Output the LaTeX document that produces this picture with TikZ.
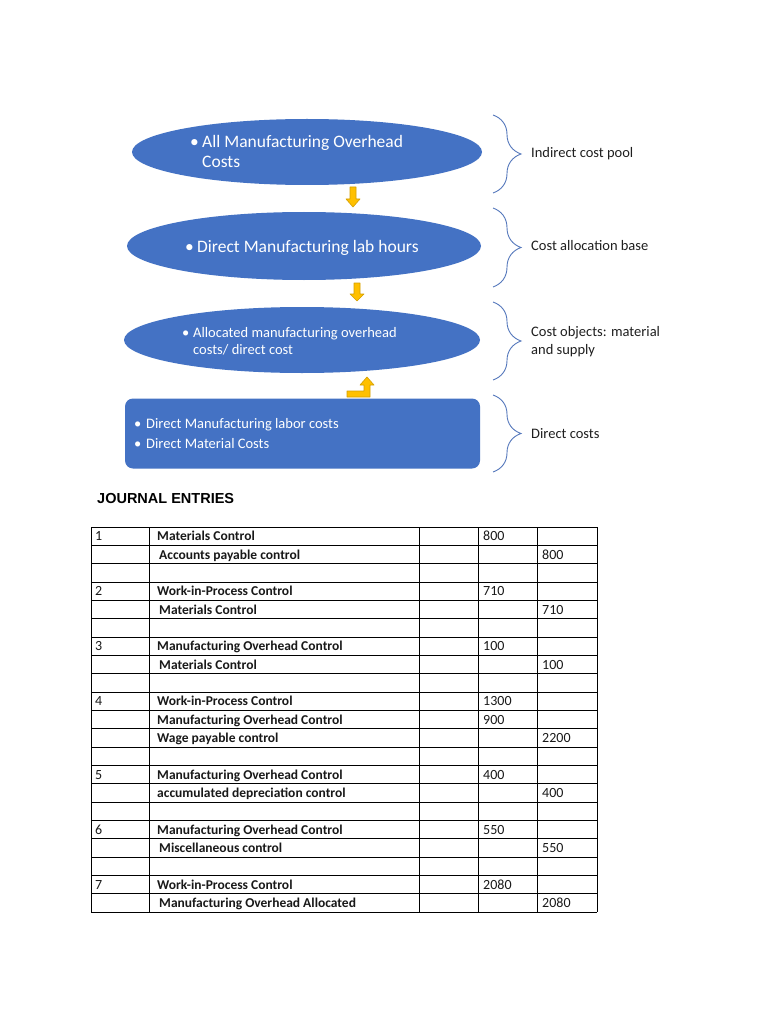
\documentclass[tikz,border=0pt]{standalone}
\usepackage{fontspec}
\setmainfont{Carlito}
\newfontfamily\headfont{Liberation Sans}
\usetikzlibrary{shapes.geometric,decorations.pathreplacing}
\definecolor{oblue}{HTML}{4472C4}
\definecolor{oyel}{HTML}{FFC000}
\definecolor{oyeld}{HTML}{D39E00}
\definecolor{brc}{HTML}{5578BC}
\begin{document}
\begin{tikzpicture}[x=1pt,y=-1pt,
  blob/.style={ellipse, fill=oblue, draw=none, inner sep=0pt},
  bigtxt/.style={text=white, anchor=base west, inner sep=0pt, font=\fontsize{17.5}{20}\selectfont},
  smalltxt/.style={text=white, anchor=base west, inner sep=0pt, font=\fontsize{14.5}{18}\selectfont},
  blockarrow/.style={fill=oyel, draw=oyeld, line width=0.6pt, line join=round},
  curly/.style={draw=brc, line width=0.9pt, decorate, decoration={brace, amplitude=28pt}},
  lbl/.style={anchor=base west, inner sep=0pt, font=\fontsize{14.5}{18}\selectfont, text=black!88},
  tline/.style={draw=black, line width=1pt},
  cell/.style={anchor=base west, inner sep=0pt, font=\fontsize{14}{16}\selectfont, text=black!90},
  tcell/.style={anchor=base west, inner sep=0pt, font=\fontsize{13.5}{16}\selectfont\bfseries, text=black!90}
]
\fill[white] (0,0) rectangle (768,1024);
\useasboundingbox (0,0) rectangle (768,1024);

% ---- flow shapes
\node[blob, minimum width=350pt, minimum height=66pt] (e1) at (307,152) {};
\node[blob, minimum width=354pt, minimum height=68pt] (e2) at (304,246) {};
\node[blob, minimum width=356pt, minimum height=66pt] (e3) at (302,340) {};
\node[rectangle, rounded corners=8pt, fill=oblue, minimum width=355pt, minimum height=70pt, inner sep=0pt] (r4) at (302.5,433.5) {};

% ---- texts in shapes
\node[bigtxt] (e1a) at (190,148) {\makebox[12pt][l]{\textbullet}All Manufacturing Overhead};
\node[bigtxt] (e1b) at (202,168) {Costs};
\node[bigtxt] (e2a) at (185,252) {\makebox[12pt][l]{\textbullet}Direct Manufacturing lab hours};
\node[smalltxt] (e3a) at (182,337) {\makebox[11pt][l]{\textbullet}Allocated manufacturing overhead};
\node[smalltxt] (e3b) at (193,354) {costs/ direct cost};
\node[smalltxt] (r4a) at (134,428) {\makebox[12pt][l]{\textbullet}Direct Manufacturing labor costs};
\node[smalltxt] (r4b) at (134,448) {\makebox[12pt][l]{\textbullet}Direct Material Costs};

% ---- yellow block arrows
\draw[blockarrow] (350,187) -- (356,187) -- (356,199) -- (360,199) -- (353,207) -- (346,199) -- (350,199) -- cycle;
\draw[blockarrow] (354,283) -- (360,283) -- (360,294) -- (364,294) -- (357,301) -- (350,294) -- (354,294) -- cycle;
\draw[blockarrow] (347,391) -- (364,391) -- (364,385) -- (360,385) -- (367,377) -- (374,385) -- (370,385) -- (370,397) -- (347,397) -- cycle;

% ---- braces
\coordinate (b1t) at (493,115); \coordinate (b1b) at (493,193);
\coordinate (b2t) at (493,208); \coordinate (b2b) at (493,287);
\coordinate (b3t) at (493,302); \coordinate (b3b) at (493,380);
\coordinate (b4t) at (493,395); \coordinate (b4b) at (493,472);
\draw[curly] (b1t) -- (b1b);
\draw[curly] (b2t) -- (b2b);
\draw[curly] (b3t) -- (b3b);
\draw[curly] (b4t) -- (b4b);

\node[lbl] (l1) at (531,158) {Indirect cost pool};
\node[lbl] (l2) at (531,251) {Cost allocation base};
\node[lbl] (l3a) at (531,336) {Cost objects: material};
\node[lbl] (l3b) at (531,354) {and supply};
\node[lbl] (l4) at (531,438) {Direct costs};

% ---- journal entries
\node[anchor=base west, inner sep=0pt, font=\headfont\bfseries\fontsize{14.5}{17}\selectfont] (head) at (97,503) {JOURNAL ENTRIES};

\foreach \k in {0,...,21}
  \draw[tline] (91,{527+\k*18.333}) -- (597,{527+\k*18.333});
\foreach \x in {91,149,419,478,537,597}
  \draw[tline] (\x,527) -- (\x,912);

\foreach \r/\n/\i/\t/\d/\c in {
  1/1/0/Materials Control/800/{},
  2/{}/2/Accounts payable control/{}/800,
  4/2/0/Work-in-Process Control/710/{},
  5/{}/2/Materials Control/{}/710,
  7/3/0/Manufacturing Overhead Control/100/{},
  8/{}/2/Materials Control/{}/100,
  10/4/0/Work-in-Process Control/1300/{},
  11/{}/0/Manufacturing Overhead Control/900/{},
  12/{}/0/Wage payable control/{}/2200,
  14/5/0/Manufacturing Overhead Control/400/{},
  15/{}/0/accumulated depreciation control/{}/400,
  17/6/0/Manufacturing Overhead Control/550/{},
  18/{}/2/Miscellaneous control/{}/550,
  20/7/0/Work-in-Process Control/2080/{},
  21/{}/2/Manufacturing Overhead Allocated/{}/2080}
{
  \pgfmathsetmacro\yy{527+(\r-0.5)*18.333+4.5}
  \node[cell] (n\r) at (95,\yy) {\n};
  \node[tcell] (t\r) at (157+\i,\yy) {\t};
  \node[cell] (d\r) at (483,\yy) {\d};
  \node[cell] (c\r) at (542,\yy) {\c};
}
\end{tikzpicture}
\end{document}
